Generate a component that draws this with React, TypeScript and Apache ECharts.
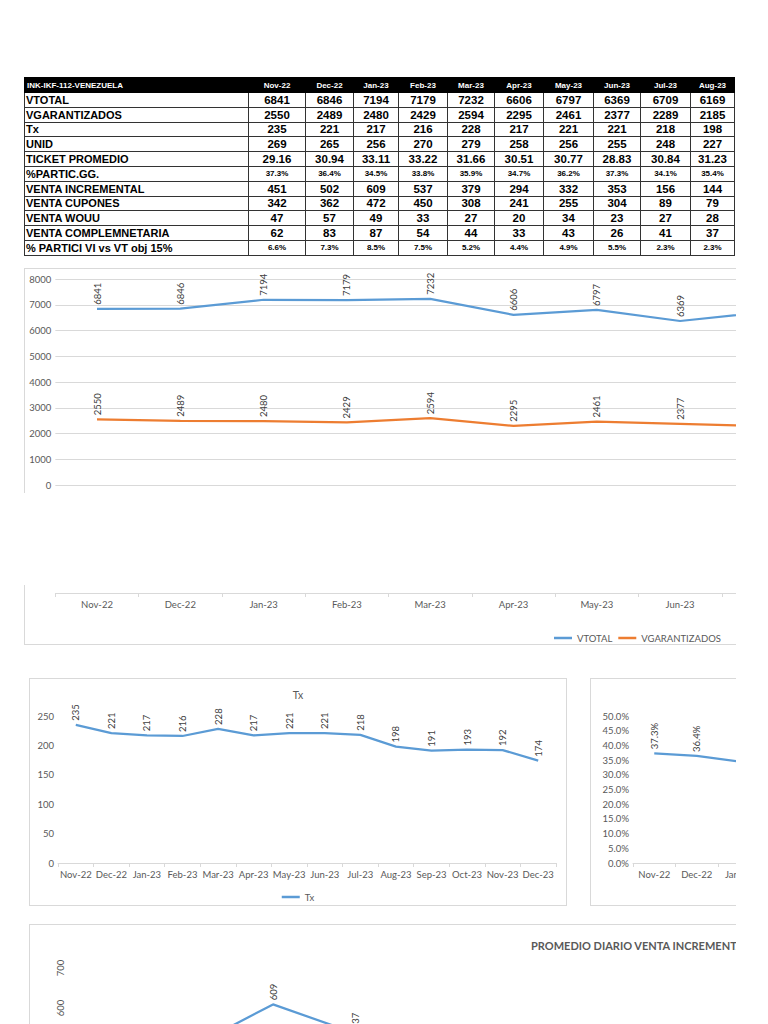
import React, { useEffect, useRef } from "react";
import * as echarts from "echarts";

const months = ["Nov-22", "Dec-22", "Jan-23", "Feb-23", "Mar-23", "Apr-23", "May-23", "Jun-23", "Jul-23", "Aug-23"];
const vtotal = [6841, 6846, 7194, 7179, 7232, 6606, 6797, 6369, 6709, 6169];
const vgarant = [2550, 2489, 2480, 2429, 2594, 2295, 2461, 2377, 2289, 2185];
const txTable = [235, 221, 217, 216, 228, 217, 221, 221, 218, 198];
const unid = [269, 265, 256, 270, 279, 258, 256, 255, 248, 227];
const ticket = ["29.16", "30.94", "33.11", "33.22", "31.66", "30.51", "30.77", "28.83", "30.84", "31.23"];
const particGG = [37.3, 36.4, 34.5, 33.8, 35.9, 34.7, 36.2, 37.3, 34.1, 35.4];
const ventaInc = [451, 502, 609, 537, 379, 294, 332, 353, 156, 144];
const cupones = [342, 362, 472, 450, 308, 241, 255, 304, 89, 79];
const wouu = [47, 57, 49, 33, 27, 20, 34, 23, 27, 28];
const complem = [62, 83, 87, 54, 44, 33, 43, 26, 41, 37];
const particVI = [6.6, 7.3, 8.5, 7.5, 5.2, 4.4, 4.9, 5.5, 2.3, 2.3];

const txMonths = ["Nov-22", "Dec-22", "Jan-23", "Feb-23", "Mar-23", "Apr-23", "May-23", "Jun-23", "Jul-23", "Aug-23", "Sep-23", "Oct-23", "Nov-23", "Dec-23"];
const txSeries = [235, 221, 217, 216, 228, 217, 221, 221, 218, 198, 191, 193, 192, 174];

const FONT = "Lato, 'Open Sans', sans-serif";
const BLUE = "#5B9BD5";
const ORANGE = "#ED7D31";
const AXIS_TXT = "#595959";
const GRIDC = "#d9d9d9";

function Chart({ option, style }: { option: any; style: React.CSSProperties }) {
  const ref = useRef<HTMLDivElement>(null);
  useEffect(() => {
    const c = echarts.init(ref.current!, null, { renderer: "svg" });
    c.setOption(option);
    return () => c.dispose();
  }, []);
  return <div ref={ref} style={style} />;
}

// labels for points that lie outside the visible (clipped) part of a chart are left empty
const rotLabel = (from: number, to: number, fmt?: (v: number) => string) => ({
  show: true,
  position: "top",
  rotate: 90,
  align: "left",
  verticalAlign: "middle",
  distance: 4,
  fontSize: 9.5,
  fontFamily: FONT,
  color: "#404040",
  formatter: (p: any) =>
    p.dataIndex >= from && p.dataIndex < to ? (fmt ? fmt(p.value) : String(p.value)) : "",
});

const lineSeries = (name: string, data: number[], color: string, label: any) => ({
  name,
  type: "line",
  data,
  symbol: "circle",
  symbolSize: 0.1,
  showSymbol: true,
  lineStyle: { color, width: 2.25 },
  itemStyle: { color },
  label,
});

const catLabels = (visibleCount: number) => (v: string, i: number) => (i < visibleCount ? v : "");

const optTopA = {
  animation: false,
  grid: { left: 30.35, top: 10, width: 833, height: 206 },
  xAxis: { type: "category", data: months, show: false },
  yAxis: {
    type: "value",
    min: 0,
    max: 8000,
    interval: 1000,
    axisLabel: { color: AXIS_TXT, fontSize: 9.5, margin: 4, fontFamily: FONT, formatter: (v: number) => String(v) },
    splitLine: { lineStyle: { color: GRIDC } },
    axisLine: { show: false },
    axisTick: { show: false },
  },
  series: [
    lineSeries("VTOTAL", vtotal, BLUE, rotLabel(0, 8)),
    lineSeries("VGARANTIZADOS", vgarant, ORANGE, rotLabel(0, 8)),
  ],
};

const optTopB = {
  animation: false,
  grid: { left: 30.35, top: 0, width: 833, height: 8 },
  xAxis: {
    type: "category",
    data: months,
    axisLine: { lineStyle: { color: GRIDC } },
    axisTick: { show: true, length: 4, lineStyle: { color: GRIDC } },
    axisLabel: { color: AXIS_TXT, fontSize: 9.5, margin: 6, fontFamily: FONT, interval: 0, formatter: catLabels(8) },
  },
  yAxis: { type: "value", min: 0, max: 1, show: false },
  legend: {
    left: 524,
    top: 43,
    icon: "rect",
    itemWidth: 18,
    itemHeight: 2.5,
    itemGap: 6,
    textStyle: { fontSize: 9.5, color: AXIS_TXT, fontFamily: FONT },
    data: ["VTOTAL", "VGARANTIZADOS"],
  },
  series: [
    { ...lineSeries("VTOTAL", vtotal, BLUE, { show: false }), symbol: "none" },
    { ...lineSeries("VGARANTIZADOS", vgarant, ORANGE, { show: false }), symbol: "none" },
  ],
};

const optTx = {
  animation: false,
  title: { text: "Tx", left: "center", top: 5, textStyle: { fontSize: 10.5, color: AXIS_TXT, fontWeight: "normal", fontFamily: FONT } },
  grid: { left: 28, top: 37, width: 498, height: 147 },
  legend: {
    top: 208,
    left: "center",
    icon: "rect",
    itemWidth: 18,
    itemHeight: 2.5,
    textStyle: { fontSize: 9.5, color: AXIS_TXT, fontFamily: FONT },
    data: ["Tx"],
  },
  xAxis: {
    type: "category",
    data: txMonths,
    axisLine: { lineStyle: { color: GRIDC } },
    axisTick: { show: true, length: 4, lineStyle: { color: GRIDC } },
    axisLabel: { color: AXIS_TXT, fontSize: 9.5, margin: 6, interval: 0, fontFamily: FONT },
  },
  yAxis: {
    type: "value",
    min: 0,
    max: 250,
    interval: 50,
    axisLabel: { color: AXIS_TXT, fontSize: 9.5, margin: 4, fontFamily: FONT },
    splitLine: { show: false },
    axisLine: { show: false },
    axisTick: { show: false },
  },
  series: [lineSeries("Tx", txSeries, BLUE, rotLabel(0, txSeries.length))],
};

const optPct = {
  animation: false,
  grid: { left: 42, top: 37, width: 425, height: 147 },
  xAxis: {
    type: "category",
    data: months,
    axisLine: { lineStyle: { color: GRIDC } },
    axisTick: { show: true, length: 4, lineStyle: { color: GRIDC } },
    axisLabel: { color: AXIS_TXT, fontSize: 9.5, margin: 6, interval: 0, fontFamily: FONT, formatter: catLabels(3) },
  },
  yAxis: {
    type: "value",
    min: 0,
    max: 0.5,
    interval: 0.05,
    axisLabel: { color: AXIS_TXT, fontSize: 9.5, margin: 4, fontFamily: FONT, formatter: (v: number) => (v * 100).toFixed(1) + "%" },
    splitLine: { show: false },
    axisLine: { show: false },
    axisTick: { show: false },
  },
  series: [
    lineSeries(
      "%PARTIC.GG.",
      particGG.map((v) => v / 100),
      BLUE,
      rotLabel(0, 2, (v) => (v * 100).toFixed(1) + "%")
    ),
  ],
};

const optInc = {
  animation: false,
  title: {
    text: "PROMEDIO DIARIO VENTA INCREMENTAL",
    left: 496,
    top: 10,
    textStyle: { fontSize: 11, color: AXIS_TXT, fontWeight: "bold", fontFamily: FONT },
  },
  grid: { left: 38, top: 43, width: 820, height: 280 },
  xAxis: {
    type: "category",
    data: months,
    axisLine: { lineStyle: { color: GRIDC } },
    axisTick: { show: false },
    axisLabel: { show: false },
  },
  yAxis: {
    type: "value",
    min: 0,
    max: 700,
    interval: 100,
    axisLabel: {
      color: AXIS_TXT,
      fontSize: 9.5,
      margin: 3,
      rotate: 90,
      fontFamily: FONT,
      formatter: (v: number) => (v >= 600 ? String(v) : ""),
    },
    splitLine: { show: false },
    axisLine: { show: false },
    axisTick: { show: false },
  },
  series: [lineSeries("VENTA INCREMENTAL", ventaInc, BLUE, rotLabel(2, 4))],
};

const rowLabels = [
  "VTOTAL",
  "VGARANTIZADOS",
  "Tx",
  "UNID",
  "TICKET PROMEDIO",
  "%PARTIC.GG.",
  "VENTA INCREMENTAL",
  "VENTA CUPONES",
  "VENTA WOUU",
  "VENTA COMPLEMNETARIA",
  "% PARTICI VI vs VT obj 15%",
];
const rowValues: string[][] = [
  vtotal.map(String),
  vgarant.map(String),
  txTable.map(String),
  unid.map(String),
  ticket,
  particGG.map((v) => v.toFixed(1) + "%"),
  ventaInc.map(String),
  cupones.map(String),
  wouu.map(String),
  complem.map(String),
  particVI.map((v) => v.toFixed(1) + "%"),
];
const smallRows = [5, 10];
const colWidths = [224, 57, 48, 45, 49, 47, 49, 50, 47, 50, 44];

function DataTable() {
  const tf = "'Liberation Sans', Arial, sans-serif";
  return (
    <table
      style={{
        position: "absolute",
        left: 24,
        top: 77,
        borderCollapse: "collapse",
        tableLayout: "fixed",
        width: 711,
        fontFamily: tf,
        fontWeight: "bold",
        color: "#000",
      }}
    >
      <colgroup>
        {colWidths.map((w, i) => (
          <col key={i} style={{ width: w }} />
        ))}
      </colgroup>
      <tbody>
        <tr style={{ height: 15, background: "#000", color: "#fff", fontSize: 8 }}>
          <td style={{ padding: "0 0 0 2px", textAlign: "left", border: "1px solid #000" }}>INK-IKF-112-VENEZUELA</td>
          {months.map((m) => (
            <td key={m} style={{ padding: 0, textAlign: "center", border: "1px solid #000" }}>
              {m}
            </td>
          ))}
        </tr>
        {rowLabels.map((lab, r) => (
          <tr key={lab} style={{ height: 14.8 }}>
            <td style={{ padding: "0 0 0 1px", fontSize: 11, lineHeight: "12px", border: "1px solid #333", whiteSpace: "nowrap" }}>{lab}</td>
            {rowValues[r].map((v, i) => (
              <td
                key={i}
                style={{
                  padding: 0,
                  textAlign: "center",
                  fontSize: smallRows.includes(r) ? 8 : 11.5,
                  lineHeight: "12px",
                  border: "1px solid #333",
                }}
              >
                {v}
              </td>
            ))}
          </tr>
        ))}
      </tbody>
    </table>
  );
}

export default function App() {
  const bc = "1px solid #d9d9d9";
  return (
    <div style={{ position: "absolute", left: 0, top: 0, width: 768, height: 1024, overflow: "hidden", background: "#fff" }}>
      <DataTable />
      {/* top chart, upper part */}
      <div style={{ position: "absolute", left: 24, top: 268, width: 711, height: 224, overflow: "hidden", borderLeft: bc, borderTop: bc }}>
        <Chart option={optTopA} style={{ position: "absolute", left: 0, top: 0, width: 900, height: 224 }} />
      </div>
      {/* top chart, lower part */}
      <div style={{ position: "absolute", left: 24, top: 585, width: 711, height: 59, overflow: "hidden", borderLeft: bc, borderBottom: bc }}>
        <Chart option={optTopB} style={{ position: "absolute", left: 0, top: 0, width: 900, height: 59 }} />
      </div>
      {/* Tx chart */}
      <div style={{ position: "absolute", left: 29, top: 678, width: 536, height: 226, overflow: "hidden", border: bc }}>
        <Chart option={optTx} style={{ position: "absolute", left: 0, top: 0, width: 536, height: 226 }} />
      </div>
      {/* %PARTIC chart */}
      <div style={{ position: "absolute", left: 590, top: 678, width: 145, height: 226, overflow: "hidden", borderLeft: bc, borderTop: bc, borderBottom: bc }}>
        <Chart option={optPct} style={{ position: "absolute", left: 0, top: 0, width: 500, height: 226 }} />
      </div>
      {/* Venta incremental chart */}
      <div style={{ position: "absolute", left: 29, top: 924, width: 706, height: 100, overflow: "hidden", borderLeft: bc, borderTop: bc }}>
        <Chart option={optInc} style={{ position: "absolute", left: 0, top: 0, width: 900, height: 340 }} />
      </div>
    </div>
  );
}
